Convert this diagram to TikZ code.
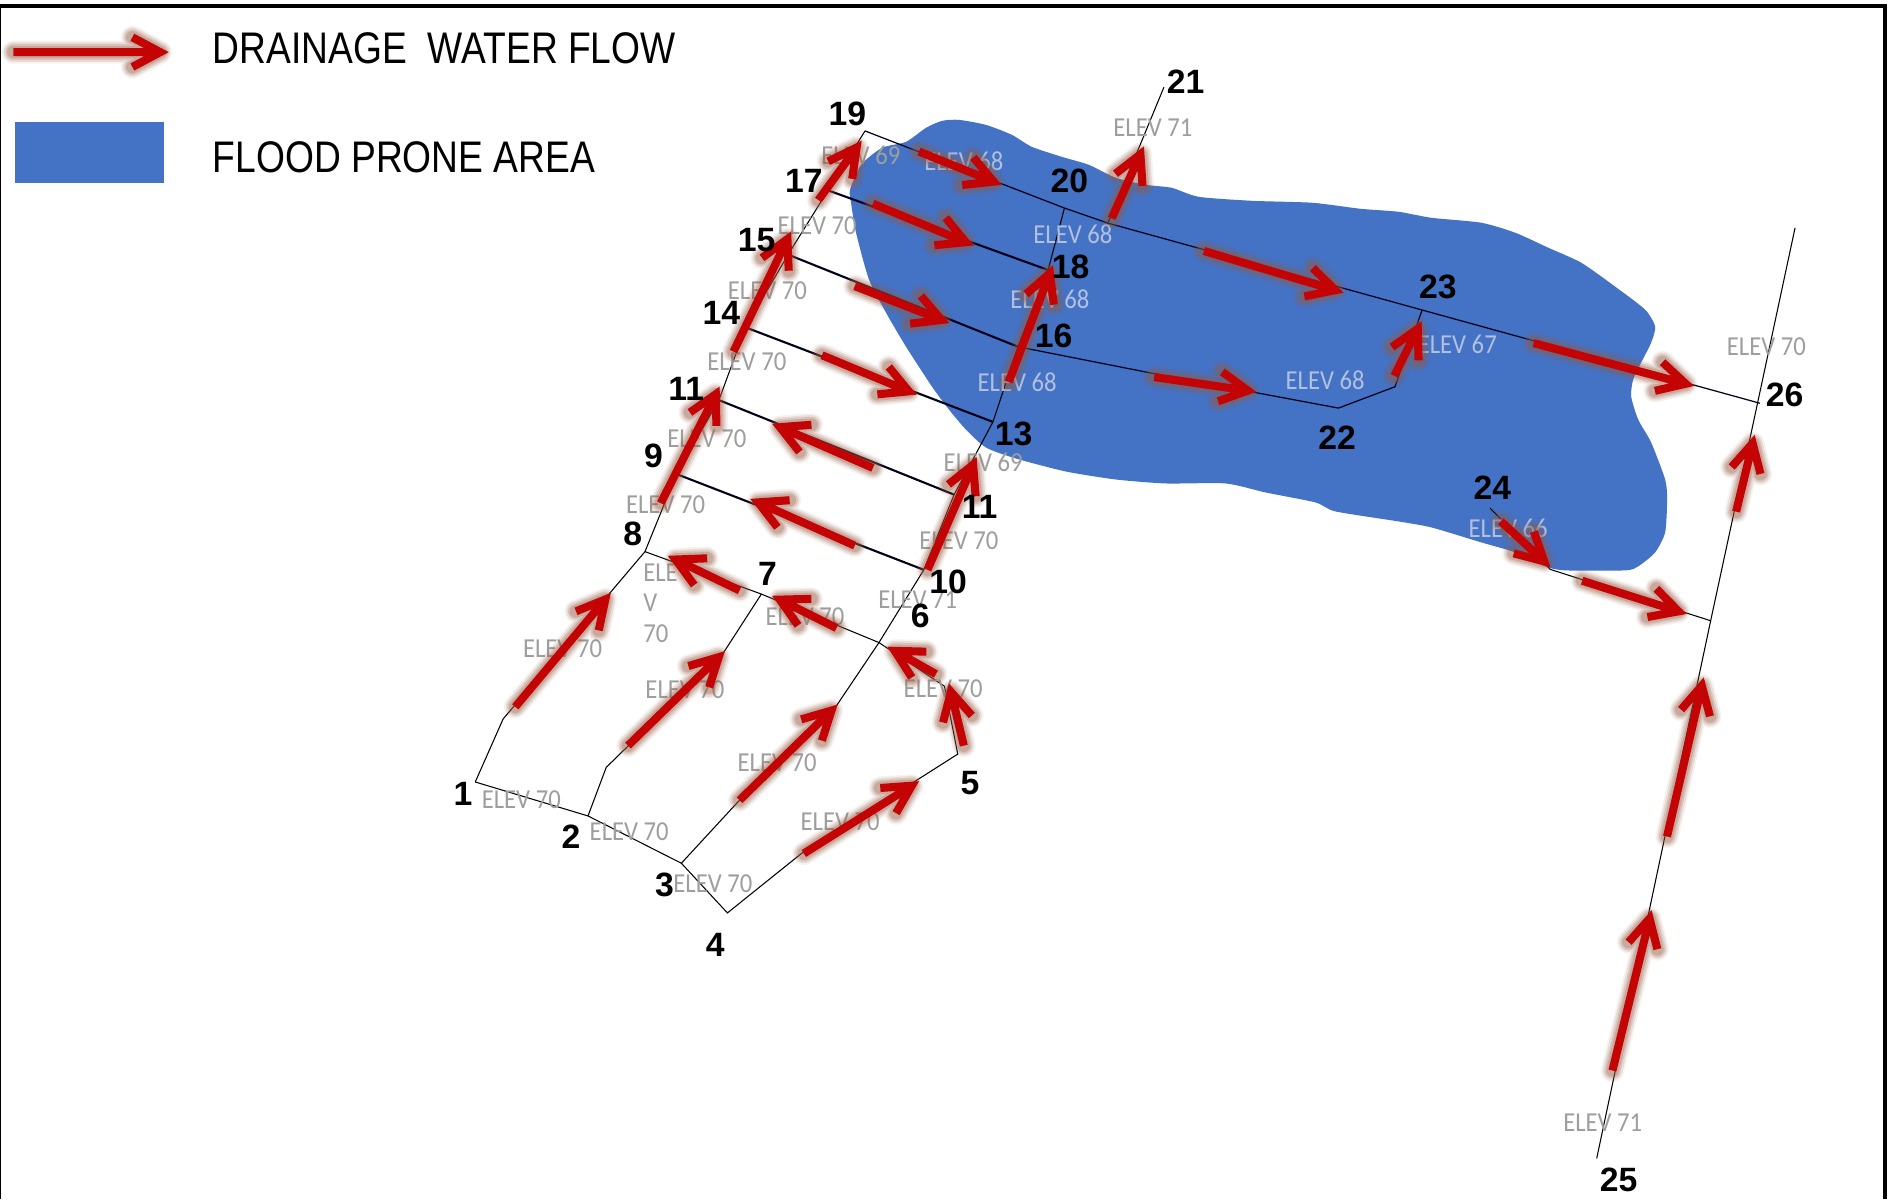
\documentclass[tikz,border=0pt]{standalone}
\usepackage{fontspec}
\usetikzlibrary{calc}
\setmainfont{Liberation Sans}
\newfontfamily\elevfont[FakeStretch=0.9]{Carlito}
\newfontfamily\legfont[FakeStretch=0.84]{Liberation Sans}
\definecolor{floodblue}{RGB}{68,114,196}
\definecolor{flowred}{RGB}{196,4,4}
\definecolor{glowc}{RGB}{150,92,66}
\definecolor{elevgrey}{RGB}{158,158,158}
\definecolor{elevlight}{RGB}{178,192,222}
\tikzset{
  net/.style={draw=black,line width=0.3pt,line join=miter},
  netb/.style={draw=black!90!blue,line width=0.35pt},
  netc/.style={draw=black!90!blue,line width=0.6pt},
  elev/.style={text=elevgrey,font=\elevfont\fontsize{7.8}{8}\selectfont,inner sep=0pt},
  elevin/.style={elev,text=elevlight},
  num/.style={text=black,font=\bfseries\fontsize{9.6}{10}\selectfont,inner sep=0pt},
  legend/.style={text=black,font=\legfont\fontsize{12.6}{13}\selectfont,inner sep=0pt,anchor=west},
  glowbase/.style={draw=glowc,line cap=round,line join=round},
  glowa/.style={glowbase,opacity=.08,line width=6.6pt},
  glowb/.style={glowbase,opacity=.14,line width=5.6pt},
  glowd/.style={glowbase,opacity=.18,line width=4.6pt},
  glowe/.style={glowbase,opacity=.25,line width=3.6pt},
  flow/.style={draw=flowred,line width=2.3pt,line cap=butt,line join=miter},
}
\begin{document}
\begin{tikzpicture}[x=0.012124cm,y=-0.012124cm]
\useasboundingbox (0,0) rectangle (1568,989);
\fill[white] (0,0) rectangle (1568,989);
% flood area
\begin{scope}[x=0.01cm,y=-0.01cm]
\fill[floodblue] plot[smooth cycle,tension=0.4] coordinates {
(943,121)(960,120)(987,125)(1013,135)(1033,147)(1063,157)(1090,165)(1117,178)(1147,185)(1173,188)(1200,197)(1253,201)(1314,203)(1362,209)(1400,212)(1433,218)(1483,223)(1517,233)(1550,248)(1583,263)(1617,287)(1647,310)(1657,327)(1653,343)(1643,363)(1635,380)(1633,397)(1640,420)(1653,443)(1667,480)(1669,500)(1667,533)(1657,553)(1640,567)(1627,571)(1567,571)(1547,567)(1517,553)(1483,543)(1433,528)(1400,522)(1337,512)(1317,503)(1267,493)(1227,484)(1167,484)(1117,480)(1067,472)(1017,459)(987,448)(967,430)(950,410)(933,387)(907,347)(887,313)(870,280)(857,233)(852,203)(851,190)(862,165)(883,148)(907,142)(927,128)};
\end{scope}
\fill[floodblue] (12,100.6) rectangle (135,151);
% frame
\fill[black] (0,3.3) rectangle (1556.8,6.6);
\fill[black] (1553,3.3) rectangle (1556.8,989);
\fill[black] (0,3.3) rectangle (1,989);
% junctions
\coordinate (p1) at (392,645);\coordinate (p1b) at (415,593);
\coordinate (p2) at (485,673);\coordinate (p2b) at (500,633);
\coordinate (p2c) at (597,538);
\coordinate (p3) at (562,712);\coordinate (p3b) at (610,660);\coordinate (p3c) at (690,582);
\coordinate (p4) at (600,753);\coordinate (p4b) at (661,704);
\coordinate (p5) at (790,622);\coordinate (p5b) at (779,566);
\coordinate (j6) at (725,530);\coordinate (j7) at (628,490);
\coordinate (j8) at (532,455);\coordinate (j9) at (558,391);
\coordinate (j10) at (762,470);\coordinate (j11) at (593,330);
\coordinate (k11) at (787,408);\coordinate (j13) at (819,348);
\coordinate (j14) at (615,270);\coordinate (j15) at (650,210);
\coordinate (j16) at (839.6,286);\coordinate (j17) at (683,157);
\coordinate (j18) at (864.5,222.7);\coordinate (j19) at (713.5,108);
\coordinate (j20) at (878,171.6);\coordinate (k21) at (913.8,184);
\coordinate (j21) at (960,72);\coordinate (j23) at (1173,255.7);
\coordinate (j22) at (1104,336.6);\coordinate (k22) at (1150.6,319);
\coordinate (k16) at (948.5,307.5);
\coordinate (j26) at (1451.6,332.6);\coordinate (jr) at (1447,345);\coordinate (top) at (1480.6,188);
\coordinate (j25) at (1317,955.5);\coordinate (m) at (1411,512);
\coordinate (j24) at (1229,419);\coordinate (k24) at (1278.6,469.6);
% drainage lines
\draw[net] (j25) -- (m) -- (jr) -- (top);
\draw[net] (j24) -- (k24) -- (m);
\draw[net] (p1) -- (p2) -- (p3) -- (p4) -- (p4b) -- (p5) -- (p5b) -- (j6) -- (j7) -- (j8);
\draw[net] (p1) -- (p1b) -- (j8) -- (j9) -- (j11) -- (j14) -- (j15) -- (j17) -- (j19);
\draw[net] (p2) -- (p2b) -- (p2c) -- (j7);
\draw[net] (p3) -- (p3b) -- (p3c) -- (j6) -- (j10) -- (k11) -- (j13) -- (j16) -- (j18) -- (j20);
\draw[net] (k21) -- (j21);
\draw[netb] (j19) -- (j20) -- (k21) -- (j23) -- (j26);
\draw[netc] (j9) -- (j10);
\draw[netc] (j11) -- (k11);
\draw[netc] (j14) -- (j13);
\draw[netc] (j15) -- (j16);
\draw[netb] (j16) -- (k16) -- (j22) -- (k22) -- (j23);
\draw[netc] (j17) -- (j18);
% elevations
\foreach \n/\x/\y/\t in {a1/430/660/ELEV 70,a2/519/686/ELEV 70,a3/588/729/ELEV 70,a4/693/678/ELEV 70,a5/641/629/ELEV 70,a6/565/569/ELEV 70,a7/464/535/ELEV 70,a8/664/509/ELEV 70,a9/778/568/ELEV 70,a10/757/495/ELEV 71,a11/791/446/ELEV 70,a12/811/381/ELEV 69,a13/549/416/ELEV 70,a14/583/362/ELEV 70,a15/616/298/ELEV 70,a16/633/240/ELEV 70,a17/674/186/ELEV 70,a18/710/128/ELEV 69,a19/1457/286/ELEV 70,a20/951/105/ELEV 71,a21/1322/926/ELEV 71}
  {\node[elev] (\n) at (\x,\y) {\t};}
\foreach \n/\x/\y/\t in {b1/795/133/ELEV 68,b2/885/193/ELEV 68,b3/866/247/ELEV 68,b4/839/315/ELEV 68,b5/1093/314/ELEV 68,b6/1202/284/ELEV 67,b7/1244/436/ELEV 66}
  {\node[elevin] (\n) at (\x,\y) {\t};}
\node[elev,anchor=west] (c1) at (530,472) {ELE};
\node[elev,anchor=west] (c2) at (530,497) {V};
\node[elev,anchor=west] (c3) at (530,523) {70};
% flow arrows: shaft and open head stroked as one path, so each glow layer is even
\foreach \n/\ax/\ay/\bx/\by in {
 0/11/43/138/43,
 1/425/583/503/490,2/518/615/597/538,3/610/660/690/582,4/663/704/757/645,
 5/795/615/783/565,6/772/556/733/534,7/690/518/638/492,8/610/487/552/459,
 9/705/450/620/412,10/720/386/638/350,11/545/415/593/320,12/605/290/652/192,
 13/675/165/710/117,14/765/470/805/378,15/832/315/868/220,16/678/293/755/325,
 17/705/236/782/266,18/720/168/802/202,19/758/125/825/152,20/917/180/943/122,
 21/993/207/1107/241,22/952/311/1035/323,23/1150/310/1172/266,24/1265/283/1396/318,
 25/1238/430/1278/467,26/1305/479/1390/506,27/1330/883/1362/752,28/1375/690/1405/560,
 29/1432/422/1447/360}{
 \coordinate (fs\n) at (\ax,\ay);
 \coordinate (fe\n) at (\bx,\by);
 \coordinate (ft\n) at ($(fe\n)!2pt!(fs\n)$);
 \coordinate (fb\n) at ($(ft\n)!9pt!28:(fs\n)$);
 \coordinate (fc\n) at ($(ft\n)!9pt!-28:(fs\n)$);
 \foreach \layer in {glowa,glowb,glowd,glowe,flow}{
   \draw[\layer] (fs\n) -- (ft\n) (fb\n) -- (ft\n) -- (fc\n);
 }
}
% numbers
\foreach \n/\x/\y/\t in {n1/382/655/1,n2/471/690/2,n3/548/730/3,n4/590/779/4,n5/800/646/5,n6/759/508/6,n7/633/473/7,n8/522/440/8,n9/539/376/9,n10/782/480/10,n11/808/418/11,n12/566/321/11,n13/836/358/13,n14/595/258/14,n15/624/198/15,n16/869/277/16,n17/663/149/17,n18/883/220/18,n19/699/94/19,n20/882/149/20,n21/978/67/21,n22/1103/361/22,n23/1186/237/23,n24/1231/402/24,n25/1335/973/25,n26/1472/326/26}
  {\node[num] (\n) at (\x,\y) {\t};}
% legend
\node[legend] (l1) at (175,40) {DRAINAGE\ \ WATER FLOW};
\node[legend] (l2) at (175,130) {FLOOD PRONE AREA};
\end{tikzpicture}
\end{document}
